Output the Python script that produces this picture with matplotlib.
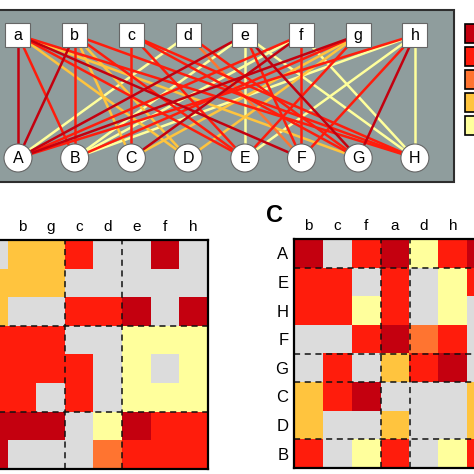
import numpy as np
import matplotlib
matplotlib.use('Agg')
import matplotlib.pyplot as plt
from matplotlib.colors import ListedColormap
from matplotlib.patches import Rectangle, Circle

plt.rcParams['font.family'] = ['Liberation Sans', 'DejaVu Sans']

top_nodes = ['a', 'b', 'c', 'd', 'e', 'f', 'g', 'h']
bottom_nodes = ['A', 'B', 'C', 'D', 'E', 'F', 'G', 'H']
# levels: 0 none, 1 light yellow, 2 yellow-orange, 3 orange, 4 red, 5 dark red
weights = np.array([
    [5, 5, 0, 1, 5, 4, 5, 4],  # A
    [4, 4, 0, 0, 1, 1, 4, 1],  # B
    [0, 2, 4, 0, 0, 5, 2, 0],  # C
    [2, 2, 0, 0, 0, 0, 2, 0],  # D
    [4, 4, 4, 0, 1, 0, 4, 1],  # E
    [5, 0, 0, 3, 4, 4, 0, 4],  # F
    [2, 0, 4, 4, 5, 0, 0, 5],  # G
    [4, 4, 4, 0, 1, 1, 0, 1],  # H
])
b_rows = ['C', 'D', 'G', 'B', 'E', 'H', 'A', 'F']
b_cols = ['a', 'b', 'g', 'c', 'd', 'e', 'f', 'h']
b_hlines = [3, 6]
b_vlines = [3, 5]
c_rows = ['A', 'E', 'H', 'F', 'G', 'C', 'D', 'B']
c_cols = ['b', 'c', 'f', 'a', 'd', 'h', 'g', 'e']
c_hlines = [1, 4, 5, 7]
c_vlines = [3, 4]

level_colors = ['#dcdcdc', '#ffff9c', '#ffc43e', '#ff7430', '#ff1c0c', '#c4000f']
cmap = ListedColormap(level_colors)

W = 474
fig = plt.figure(figsize=(4.74, 4.74), dpi=100)

# ---- top graph panel (pixel coords)
ax = fig.add_axes([0, 0, 1, 1])
ax.set_xlim(0, W)
ax.set_ylim(W, 0)
ax.axis('off')
ax.add_patch(Rectangle((-3, 10), 457, 172, facecolor='#8f9d9d', edgecolor='#2e2e2e', lw=1.5, zorder=0))

x0, dx = 18, 56.7
ytop, ybot = 35, 158
edges = [(i, j, weights[i, j]) for i in range(8) for j in range(8) if weights[i, j] > 0]
edges.sort(key=lambda e: e[2])
for i, j, w in edges:
    ax.plot([x0 + j * dx, x0 + i * dx], [ytop, ybot], color=level_colors[w], lw=1.8,
            solid_capstyle='butt', zorder=1)

for j, n in enumerate(top_nodes):
    cx = x0 + j * dx
    ax.add_patch(Rectangle((cx - 12.5, ytop - 12), 25, 24, facecolor='white', edgecolor='#666666', lw=0.8, zorder=3))
    ax.text(cx, ytop, n, ha='center', va='center', fontsize=11.5, zorder=4)
for i, n in enumerate(bottom_nodes):
    cx = x0 + i * dx
    ax.add_patch(Circle((cx, ybot), 14, facecolor='white', edgecolor='#666666', lw=0.8, zorder=3))
    ax.text(cx, ybot + 0.5, n, ha='center', va='center', fontsize=11.5, zorder=4)

# legend boxes (cut by right edge)
for k, lev in enumerate([5, 4, 3, 2, 1]):
    ax.add_patch(Rectangle((465, 23.5 + k * 23), 25, 19, facecolor=level_colors[lev],
                           edgecolor='black', lw=1.2, zorder=2))

ax.text(275, 216, 'C', ha='center', va='center', fontsize=17, fontweight='bold')


def heat(pos, rows, cols, hl, vl, show_rows, show_cols):
    hx = fig.add_axes(pos)
    ri = [bottom_nodes.index(r) for r in rows]
    ci = [top_nodes.index(c) for c in cols]
    m = weights[np.ix_(ri, ci)]
    hx.imshow(m, cmap=cmap, vmin=-0.5, vmax=5.5, aspect='auto', interpolation='nearest')
    for y in hl:
        hx.axhline(y - 0.5, color='#111111', lw=1.1, ls=(0, (4, 3)))
    for x in vl:
        hx.axvline(x - 0.5, color='#111111', lw=1.1, ls=(0, (4, 3)))
    hx.xaxis.tick_top()
    # labels that fall outside the cropped picture are left blank
    hx.set_xticks(range(8))
    hx.set_xticklabels([c if c in show_cols else '' for c in cols], fontsize=11)
    hx.set_yticks(range(8))
    hx.set_yticklabels([r if show_rows else '' for r in rows], fontsize=12)
    hx.tick_params(length=0, pad=4)
    for s in hx.spines.values():
        s.set_linewidth(1.6)
    return hx


heat([-21 / W, 5 / W, 229 / W, 229 / W], b_rows, b_cols, b_hlines, b_vlines,
     False, b_cols[1:])
heat([294 / W, 6 / W, 231 / W, 229 / W], c_rows, c_cols, c_hlines, c_vlines,
     True, c_cols[:6])

fig.savefig('out.png', dpi=100)
